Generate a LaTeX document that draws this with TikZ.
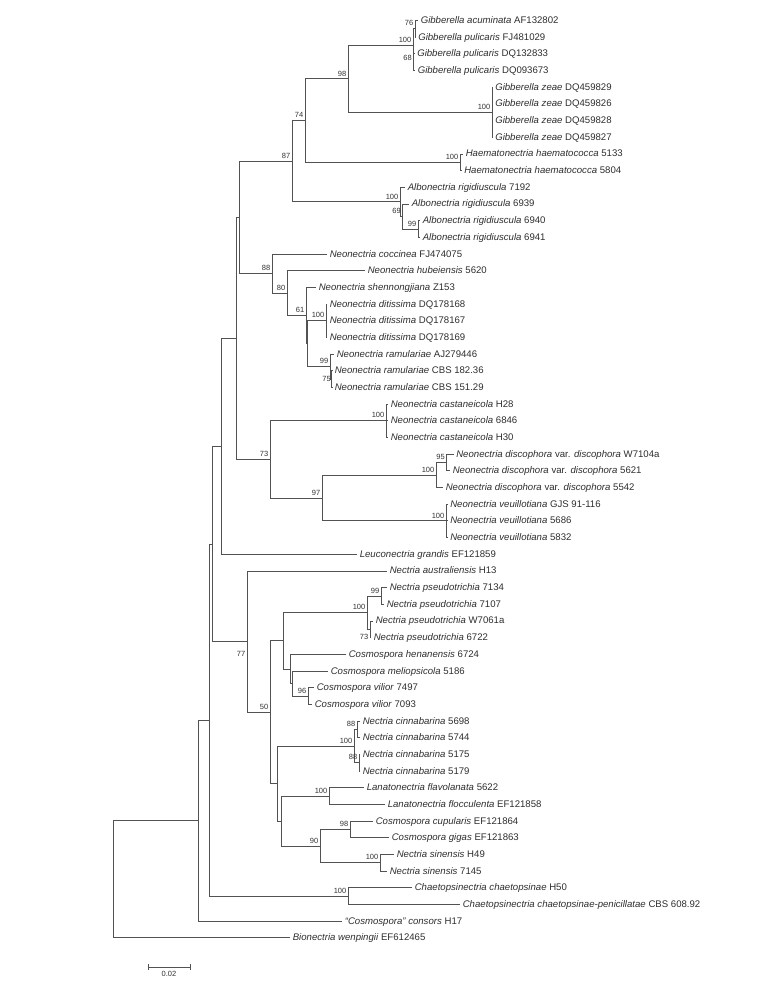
\documentclass[tikz,border=0pt]{standalone}
\usepackage{fontspec}
\setmainfont{Liberation Sans}
\usetikzlibrary{calc}
\begin{document}
\begin{tikzpicture}[x=1pt,y=-1pt]
\tikzset{
  br/.style={draw=black!68, line width=0.85pt},
  leaf/.style={anchor=west, inner xsep=2.6pt, inner ysep=0pt, font=\fontsize{9.6}{10}\selectfont, text=black!82, text height=7pt, text depth=1pt},
  bs/.style={anchor=south east, inner sep=0pt, font=\fontsize{7.5}{8}\selectfont, text=black!80},
}
\useasboundingbox[fill=white] (0,0) rectangle (780,992);
\begin{scope}[y=-16.68pt, yshift=-3.82pt]
% internal nodes
\coordinate (n76) at (415,1.5);
\coordinate (n68) at (413.5,3.5);
\coordinate (g100) at (413,2.5);
\coordinate (zeae) at (492,6.5);
\coordinate (n98) at (348,4.5);
\coordinate (haem) at (460,9.5);
\coordinate (n74) at (305,7);
\coordinate (alb99) at (418,13.5);
\coordinate (alb69) at (402.5,12.75);
\coordinate (alb100) at (400,11.875);
\coordinate (n87) at (292,9.4375);
\coordinate (ram75) at (331.5,22.5);
\coordinate (ram99) at (330,21.75);
\coordinate (dit) at (326,19);
\coordinate (nX) at (307.5,20.375);
\coordinate (n61) at (306,18.6875);
\coordinate (n80) at (287,17.34375);
\coordinate (n88) at (272,16.171875);
\coordinate (nF) at (239,12.8046875);
\coordinate (cast) at (386,25);
\coordinate (d95) at (446.5,27.5);
\coordinate (d100) at (436,28.25);
\coordinate (veu) at (446,31);
\coordinate (n97) at (322,29.625);
\coordinate (n73) at (270,27.3125);
\coordinate (nE) at (236,20.05859375);
\coordinate (nD) at (221,26.529296875);
\coordinate (p99) at (381,35.5);
\coordinate (p73) at (370,37.5);
\coordinate (p100) at (367,36.5);
\coordinate (v96) at (308,41.5);
\coordinate (nJ) at (292,40.75);
\coordinate (nI) at (290,39.875);
\coordinate (nG) at (283,38.1875);
\coordinate (c88a) at (357,43.5);
\coordinate (c88b) at (359,45.5);
\coordinate (c100) at (354,44.5);
\coordinate (lan) at (329,47.5);
\coordinate (cg98) at (350,49.5);
\coordinate (sin) at (380,51.5);
\coordinate (n90) at (320,50.5);
\coordinate (nK) at (281,49);
\coordinate (nH) at (277,46.75);
\coordinate (n50) at (270,42.46875);
\coordinate (n77) at (247,38.234375);
\coordinate (nC) at (212,32.3818359375);
\coordinate (chae) at (348,53.5);
\coordinate (nB) at (209,42.94091796875);
\coordinate (nA) at (198,48.970458984375);
\coordinate (root) at (113,52.4852294921875);
% leaves
\node[leaf] (l1) at (418,1) {\textit{Gibberella acuminata} AF132802};
\node[leaf] (l2) at (415.5,2) {\textit{Gibberella pulicaris} FJ481029};
\node[leaf] (l3) at (414.5,3) {\textit{Gibberella pulicaris} DQ132833};
\node[leaf] (l4) at (415,4) {\textit{Gibberella pulicaris} DQ093673};
\node[leaf] (l5) at (492.5,5) {\textit{Gibberella zeae} DQ459829};
\node[leaf] (l6) at (492.5,6) {\textit{Gibberella zeae} DQ459826};
\node[leaf] (l7) at (492.5,7) {\textit{Gibberella zeae} DQ459828};
\node[leaf] (l8) at (492.5,8) {\textit{Gibberella zeae} DQ459827};
\node[leaf] (l9) at (463,9) {\textit{Haematonectria haematococca} 5133};
\node[leaf] (l10) at (461.5,10) {\textit{Haematonectria haematococca} 5804};
\node[leaf] (l11) at (405,11) {\textit{Albonectria rigidiuscula} 7192};
\node[leaf] (l12) at (409,12) {\textit{Albonectria rigidiuscula} 6939};
\node[leaf] (l13) at (420,13) {\textit{Albonectria rigidiuscula} 6940};
\node[leaf] (l14) at (420,14) {\textit{Albonectria rigidiuscula} 6941};
\node[leaf] (l15) at (327,15) {\textit{Neonectria coccinea} FJ474075};
\node[leaf] (l16) at (365,16) {\textit{Neonectria hubeiensis} 5620};
\node[leaf] (l17) at (316,17) {\textit{Neonectria shennongjiana} Z153};
\node[leaf] (l18) at (327,18) {\textit{Neonectria ditissima} DQ178168};
\node[leaf] (l19) at (327,19) {\textit{Neonectria ditissima} DQ178167};
\node[leaf] (l20) at (327,20) {\textit{Neonectria ditissima} DQ178169};
\node[leaf] (l21) at (334,21) {\textit{Neonectria ramulariae} AJ279446};
\node[leaf] (l22) at (332,22) {\textit{Neonectria ramulariae} CBS 182.36};
\node[leaf] (l23) at (332,23) {\textit{Neonectria ramulariae} CBS 151.29};
\node[leaf] (l24) at (388,24) {\textit{Neonectria castaneicola} H28};
\node[leaf] (l25) at (388,25) {\textit{Neonectria castaneicola} 6846};
\node[leaf] (l26) at (388,26) {\textit{Neonectria castaneicola} H30};
\node[leaf] (l27) at (453.5,27) {\textit{Neonectria discophora} var. \textit{discophora} W7104a};
\node[leaf] (l28) at (450,28) {\textit{Neonectria discophora} var. \textit{discophora} 5621};
\node[leaf] (l29) at (443,29) {\textit{Neonectria discophora} var. \textit{discophora} 5542};
\node[leaf] (l30) at (447.5,30) {\textit{Neonectria veuillotiana} GJS 91-116};
\node[leaf] (l31) at (447.5,31) {\textit{Neonectria veuillotiana} 5686};
\node[leaf] (l32) at (447.5,32) {\textit{Neonectria veuillotiana} 5832};
\node[leaf] (l33) at (357,33) {\textit{Leuconectria grandis} EF121859};
\node[leaf] (l34) at (387,34) {\textit{Nectria australiensis} H13};
\node[leaf] (l35) at (387,35) {\textit{Nectria pseudotrichia} 7134};
\node[leaf] (l36) at (384,36) {\textit{Nectria pseudotrichia} 7107};
\node[leaf] (l37) at (373,37) {\textit{Nectria pseudotrichia} W7061a};
\node[leaf] (l38) at (371,38) {\textit{Nectria pseudotrichia} 6722};
\node[leaf] (l39) at (346,39) {\textit{Cosmospora henanensis} 6724};
\node[leaf] (l40) at (328,40) {\textit{Cosmospora meliopsicola} 5186};
\node[leaf] (l41) at (314,41) {\textit{Cosmospora vilior} 7497};
\node[leaf] (l42) at (312,42) {\textit{Cosmospora vilior} 7093};
\node[leaf] (l43) at (360,43) {\textit{Nectria cinnabarina} 5698};
\node[leaf] (l44) at (360,44) {\textit{Nectria cinnabarina} 5744};
\node[leaf] (l45) at (360,45) {\textit{Nectria cinnabarina} 5175};
\node[leaf] (l46) at (360,46) {\textit{Nectria cinnabarina} 5179};
\node[leaf] (l47) at (364,47) {\textit{Lanatonectria flavolanata} 5622};
\node[leaf] (l48) at (385,48) {\textit{Lanatonectria flocculenta} EF121858};
\node[leaf] (l49) at (373,49) {\textit{Cosmospora cupularis} EF121864};
\node[leaf] (l50) at (389,50) {\textit{Cosmospora gigas} EF121863};
\node[leaf] (l51) at (394,51) {\textit{Nectria sinensis} H49};
\node[leaf] (l52) at (387,52) {\textit{Nectria sinensis} 7145};
\node[leaf] (l53) at (412,53) {\textit{Chaetopsinectria chaetopsinae} H50};
\node[leaf] (l54) at (460,54) {\textit{Chaetopsinectria chaetopsinae-penicillatae} CBS 608.92};
\node[leaf] (l55) at (342,55) {\textit{“Cosmospora” consors} H17};
\node[leaf] (l56) at (290,56) {\textit{Bionectria wenpingii} EF612465};
% branches
\foreach \p/\c in {root/nA, root/l56, nA/nB, nA/l55, nB/nC, nB/chae, chae/l53, chae/l54,
  nC/nD, nC/n77, nD/nE, nD/l33, nE/nF, nE/n73, nF/n87, nF/n88,
  n87/n74, n87/alb100, n74/n98, n74/haem, n98/g100, n98/zeae, g100/n76, g100/n68,
  n76/l1, n76/l2, n68/l3, n68/l4, zeae/l5, zeae/l6, zeae/l7, zeae/l8, haem/l9, haem/l10,
  alb100/l11, alb100/alb69, alb69/l12, alb69/alb99, alb99/l13, alb99/l14,
  n88/l15, n88/n80, n80/l16, n80/n61, n61/l17, n61/nX, nX/dit, nX/ram99,
  dit/l18, dit/l19, dit/l20, ram99/l21, ram99/ram75, ram75/l22, ram75/l23,
  n73/cast, n73/n97, cast/l24, cast/l25, cast/l26, n97/d100, n97/veu,
  d100/d95, d100/l29, d95/l27, d95/l28, veu/l30, veu/l31, veu/l32,
  n77/l34, n77/n50, n50/nG, n50/nH, nG/p100, nG/nI, p100/p99, p100/p73,
  p99/l35, p99/l36, p73/l37, p73/l38, nI/l39, nI/nJ, nJ/l40, nJ/v96, v96/l41, v96/l42,
  nH/c100, nH/nK, c100/c88a, c100/c88b, c88a/l43, c88a/l44, c88b/l45, c88b/l46,
  nK/lan, nK/n90, lan/l47, lan/l48, n90/cg98, n90/sin, cg98/l49, cg98/l50, sin/l51, sin/l52}
  \draw[br] (\p) |- (\c);
% bootstrap values
\foreach \n/\v in {n76/76, g100/100, n98/98, zeae/100, n74/74, n87/87, haem/100,
  alb100/100, alb69/69, alb99/99, n88/88, n80/80, n61/61, dit/100, ram99/99,
  n73/73, cast/100, n97/97, d100/100, d95/95, veu/100, n50/50, p100/100, p99/99,
  v96/96, c100/100, c88a/88, c88b/88, lan/100, n90/90, cg98/98, sin/100, chae/100}
  \node[bs] at ([xshift=-1.5pt,yshift=2.6pt]\n) {\v};
\node[bs] at ([xshift=-1.5pt,yshift=1.2pt]n68) {68};
\node[bs, anchor=east] at ([xshift=-0.5pt]ram75) {75};
\node[bs, anchor=north east] at ([xshift=-1.5pt,yshift=-5pt]p73) {73};
\node[bs, anchor=north east] at ([xshift=-1.5pt,yshift=-9.5pt]n77) {77};
\end{scope}
% scale bar
\coordinate (sb1) at (148,967);
\coordinate (sb2) at (190,967);
\coordinate (sbm) at (169,967);
\draw[br] (sb1) -- (sb2);
\draw[br] ([yshift=3pt]sb1) -- ([yshift=-3pt]sb1);
\draw[br] ([yshift=3pt]sb2) -- ([yshift=-3pt]sb2);
\node[bs, anchor=north] (sbl) at ([yshift=-4pt]sbm) {0.02};
\end{tikzpicture}
\end{document}
